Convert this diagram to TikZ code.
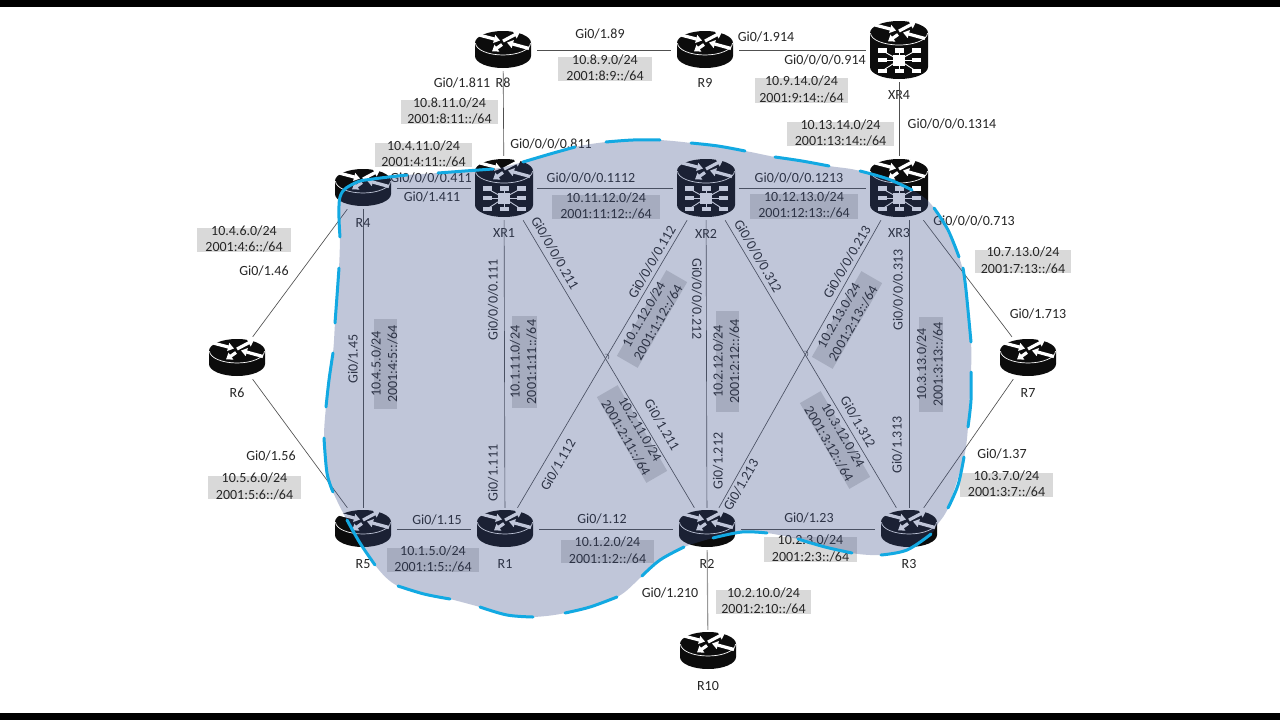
\documentclass[tikz,border=0pt]{standalone}
\usepackage{fontspec}
\setmainfont{Carlito}
\usetikzlibrary{shapes.geometric,arrows.meta}
\definecolor{linecol}{HTML}{505050}
\definecolor{boxcol}{HTML}{D9D9D9}
\definecolor{regcol}{RGB}{61,80,138}
\definecolor{bluecol}{HTML}{12A9E2}
\definecolor{devcol}{HTML}{0C0C0C}
\newcommand{\toparrows}{%
  \draw[wharrow] (-24,-8) -- (-3,-2.5);
  \draw[wharrow] (0,-2) -- (17,-11);
  \draw[wharrow] (-1,1.5) -- (-11,8.5);
  \draw[wharrow] (26,5.5) -- (4,-0.5);
}
\tikzset{
  wharrow/.style={white,line width=3.2pt,-{Triangle[width=8pt,length=6pt]}},
  routerpic/.pic={
    \fill[devcol] (-28,-7) -- (-28,6) arc[start angle=180,end angle=360,x radius=28pt,y radius=12pt]
       -- (28,-7) arc[start angle=0,end angle=180,x radius=28pt,y radius=12pt] -- cycle;
    \draw[white,line width=.7pt] (-27.5,-7) arc[start angle=180,end angle=360,x radius=27.5pt,y radius=12pt];
    \begin{scope}[shift={(0,-7)}]\toparrows\end{scope}
  },
  xrpic/.pic={
    \fill[devcol] (-29,-17) -- (-29,17) arc[start angle=180,end angle=360,x radius=29pt,y radius=12pt]
       -- (29,-17) arc[start angle=0,end angle=180,x radius=29pt,y radius=12pt] -- cycle;
    \draw[white,line width=.7pt] (-28.5,-17) arc[start angle=180,end angle=360,x radius=28.5pt,y radius=12pt];
    \begin{scope}[shift={(0,-17)}]\toparrows\end{scope}
    \foreach \px/\py in {-17/0.5,-17/10,-17/21,17/0.5,17/10,17/21,0/0.5,0/21}{
      \draw[white,line width=.9pt] (0,10) -- (\px,\py);
      \fill[white] (\px-4.5,\py-2.3) rectangle (\px+4.5,\py+2.3);
    }
    \fill[white] (-6,4.5) rectangle (6,15.5);
  },
  rtnode/.style={shape=rectangle,inner sep=0pt,minimum width=68pt,minimum height=42pt},
  xrnode/.style={shape=rectangle,inner sep=0pt,minimum width=66pt,minimum height=64pt},
  link/.style={draw=linecol,line width=.65pt},
  tag/.style={inner sep=0pt,font=\fontsize{14}{16}\selectfont,text=black!85},
  netbox/.style={fill=boxcol,inner sep=0pt,text=black!85},
  bluedash/.style={draw=bluecol,line width=3pt,line cap=round,line join=round},
}
% \nb name x y rot w h line1 line2
\newcommand{\nb}[8]{\node[netbox,rotate=#4] (#1) at (#2,#3) {\parbox[c][#6pt][c]{#5pt}{\centering\fontsize{14}{16.5}\selectfont\strut #7\\ #8\strut}};}
\newcounter{tagc}
\newcommand{\tg}[4]{\stepcounter{tagc}\node[tag,rotate=#3] (t\thetagc) at (#1,#2) {#4};}
\newcommand{\router}[4]{\node[rtnode] (#1) at (#2,#3) {};\pic at (#2,#3) {routerpic};\node[tag] (#1lab) at (#2,#4) {#1};}
\newcommand{\xr}[4]{\node[xrnode] (#1) at (#2,#3) {};\pic at (#2,#3) {xrpic};\node[tag] (#1lab) at (#2,#4) {#1};}
\begin{document}
\begin{tikzpicture}[x=1pt,y=-1pt]
\useasboundingbox (0,0) rectangle (1280,720);
\fill[white] (0,0) rectangle (1280,720);
\fill[black] (0,0) rectangle (1280,7);
\fill[black] (0,713) rectangle (1280,720);
% address boxes
\nb{b1}{605}{69}{0}{94}{24}{10.8.9.0/24}{2001:8:9::/64}
\nb{b2}{449.5}{112}{0}{97}{24}{10.8.11.0/24}{2001:8:11::/64}
\nb{b3}{801.5}{90.5}{0}{93}{25}{10.9.14.0/24}{2001:9:14::/64}
\nb{b4}{840.5}{134}{0}{107}{24}{10.13.14.0/24}{2001:13:14::/64}
\nb{b5}{423.5}{155}{0}{97}{24}{10.4.11.0/24}{2001:4:11::/64}
\nb{b6}{606}{207}{0}{108}{24}{10.11.12.0/24}{2001:11:12::/64}
\nb{b7}{804}{206}{0}{108}{25}{10.12.13.0/24}{2001:12:13::/64}
\nb{b8}{1023}{261.5}{0}{96}{23}{10.7.13.0/24}{2001:7:13::/64}
\nb{b9}{244}{240}{0}{94}{24}{10.4.6.0/24}{2001:4:6::/64}
\nb{b10}{254.5}{487.5}{0}{93}{23}{10.5.6.0/24}{2001:5:6::/64}
\nb{b11}{433}{560}{0}{92}{24}{10.1.5.0/24}{2001:1:5::/64}
\nb{b12}{607.5}{551.5}{0}{93}{23}{10.1.2.0/24}{2001:1:2::/64}
\nb{b13}{810.5}{549.5}{0}{93}{25}{10.2.3.0/24}{2001:2:3::/64}
\nb{b14}{763.5}{602}{0}{95}{24}{10.2.10.0/24}{2001:2:10::/64}
\nb{b15}{1006.5}{485}{0}{93}{24}{10.3.7.0/24}{2001:3:7::/64}
\nb{b16}{385.5}{364}{90}{90}{23}{10.4.5.0/24}{2001:4:5::/64}
\nb{b17}{524.5}{362}{90}{92}{25}{10.1.11.0/24}{2001:1:11::/64}
\nb{b18}{727.5}{361.5}{90}{101}{23}{10.2.12.0/24}{2001:2:12::/64}
\nb{b19}{931}{364.5}{90}{95}{24}{10.3.13.0/24}{2001:3:13::/64}
\nb{b20}{652}{319}{60}{99}{24}{10.1.12.0/24}{2001:1:12::/64}
\nb{b21}{847}{320}{60}{99}{24}{10.2.13.0/24}{2001:2:13::/64}
\nb{b22}{632}{434}{-60}{99}{24}{10.2.11.0/24}{2001:2:11::/64}
\nb{b23}{835}{440}{-60}{99}{24}{10.3.12.0/24}{2001:3:12::/64}
% devices
\router{R8}{503}{50}{83}
\router{R9}{705}{50}{83}
\xr{XR4}{899}{50}{95}
\router{R4}{363}{188}{223}
\xr{XR1}{504}{188}{233}
\xr{XR2}{706}{188}{234}
\xr{XR3}{899}{188}{233}
\router{R6}{237}{358}{393}
\router{R7}{1028}{358}{393}
\router{R5}{363}{529}{564}
\router{R1}{505}{529}{564}
\router{R2}{707}{529}{564}
\router{R3}{909}{529}{564}
\router{R10}{708}{651}{686}
% connectors
\draw[link] (R8) -- (R9);
\draw[link] (R9) -- (XR4);
\draw[link] (R8) -- (XR1);
\draw[link] (XR4) -- (XR3);
\draw[link] (R4) -- (XR1);
\draw[link] (XR1) -- (XR2);
\draw[link] (XR2) -- (XR3);
\draw[link] (R4) -- (R5);
\draw[link] (R4) -- (R6);
\draw[link] (R6) -- (R5);
\draw[link] (XR1) -- (R1);
\draw[link] (XR1) -- (R2);
\draw[link] (XR2) -- (R1);
\draw[link] (XR2) -- (R2);
\draw[link] (XR2) -- (R3);
\draw[link] (XR3) -- (R2);
\draw[link] (XR3.south -| R3) -- (R3);
\draw[link] (XR3) -- (R7);
\draw[link] (R7) -- (R3);
\draw[link] (R5) -- (R1);
\draw[link] (R1) -- (R2);
\draw[link] (R2) -- (R3);
\draw[draw=black!40,line width=1.1pt] (R2) -- (R10);
% small line hops at the two crossings
\draw[linecol,line width=.5pt] (605,354) .. controls (608.5,353) and (610,357) .. (608,359);
\draw[linecol,line width=.5pt] (804,351) .. controls (807.5,350) and (809,354) .. (807,356);
% interface labels
\tg{600}{34}{0}{Gi0/1.89}
\tg{766}{37}{0}{Gi0/1.914}
\tg{825}{60}{0}{Gi0/0/0/0.914}
\tg{462}{83}{0}{Gi0/1.811}
\tg{551}{144}{0}{Gi0/0/0/0.811}
\tg{952}{124}{0}{Gi0/0/0/0.1314}
\tg{431}{178}{0}{Gi0/0/0/0.411}
\tg{432}{197}{0}{Gi0/1.411}
\tg{591}{178}{0}{Gi0/0/0/0.1112}
\tg{799}{178}{0}{Gi0/0/0/0.1213}
\tg{974}{221}{0}{Gi0/0/0/0.713}
\tg{1038}{314}{0}{Gi0/1.713}
\tg{264}{271}{0}{Gi0/1.46}
\tg{353}{359}{90}{Gi0/1.45}
\tg{493}{300}{90}{Gi0/0/0/0.111}
\tg{493}{473}{90}{Gi0/1.111}
\tg{555}{253}{-60}{Gi0/0/0/0.211}
\tg{652}{262}{60}{Gi0/0/0/0.112}
\tg{697}{299}{-90}{Gi0/0/0/0.212}
\tg{758}{256}{-60}{Gi0/0/0/0.312}
\tg{847}{262}{60}{Gi0/0/0/0.213}
\tg{898}{290}{90}{Gi0/0/0/0.313}
\tg{662}{425}{-60}{Gi0/1.211}
\tg{718}{461}{90}{Gi0/1.212}
\tg{741}{485}{60}{Gi0/1.213}
\tg{858}{422}{-60}{Gi0/1.312}
\tg{897}{445}{90}{Gi0/1.313}
\tg{558}{465}{60}{Gi0/1.112}
\tg{1002}{454}{0}{Gi0/1.37}
\tg{271}{456}{0}{Gi0/1.56}
\tg{437}{520}{0}{Gi0/1.15}
\tg{602}{519}{0}{Gi0/1.12}
\tg{809}{518}{0}{Gi0/1.23}
\tg{670}{593}{0}{Gi0/1.210}
% shaded region
\fill[regcol,fill opacity=.32] plot[smooth cycle,tension=.45] coordinates {
 (713,538)(684,547)(660,560)(640,578)(617,597)(565,613)(533,617)(507,615)(480,607)(450,599)(398,586)(375,565)
 (347,520)(333,492)(327,473)(324,438)(326,407)(333,353)(335,323)(339,268)(340,237)(340,197)(355,183)(373,179)
 (407,175)(438,173)(493,169)(523,162)(575,147)(606,142)(633,140)(660,140)(691,143)(745,151)(775,157)(829,166)
 (860,171)(912,190)(934,208)(959,257)(966,290)(971,342)(971,372)(968,427)(964,457)(948,508)(937,525)(931,534)
 (907,550)(881,555)(852,553)(798,539)(767,533)(742,532)};
% dashed outline
\draw[bluedash] plot[smooth,tension=.6] coordinates {(340,237)(340,197)(355,183)(373,179)(407,175)};
\draw[bluedash] plot[smooth,tension=.6] coordinates {(438,173)(465,171)(493,169)};
\draw[bluedash] plot[smooth,tension=.6] coordinates {(523,162)(550,154)(575,147)};
\draw[bluedash] plot[smooth,tension=.6] coordinates {(606,142)(633,140)(660,140)};
\draw[bluedash] plot[smooth,tension=.6] coordinates {(691,143)(718,146)(745,151)};
\draw[bluedash] plot[smooth,tension=.6] coordinates {(775,157)(802,161)(829,166)};
\draw[bluedash] plot[smooth,tension=.6] coordinates {(860,171)(888,179)(912,190)};
\draw[bluedash] plot[smooth,tension=.6] coordinates {(934,208)(948,230)(959,257)};
\draw[bluedash] plot[smooth,tension=.6] coordinates {(963,268)(966,290)(971,342)};
\draw[bluedash] plot[smooth,tension=.6] coordinates {(971,372)(971,400)(968,427)};
\draw[bluedash] plot[smooth,tension=.6] coordinates {(964,457)(958,485)(948,508)};
\draw[bluedash] plot[smooth,tension=.6] coordinates {(931,534)(907,550)(881,555)};
\draw[bluedash] plot[smooth,tension=.6] coordinates {(852,553)(825,547)(798,539)};
\draw[bluedash] plot[smooth,tension=.6] coordinates {(767,533)(742,532)(713,538)};
\draw[bluedash] plot[smooth,tension=.6] coordinates {(684,547)(660,560)(642,576)};
\draw[bluedash] plot[smooth,tension=.6] coordinates {(617,597)(590,607)(565,613)};
\draw[bluedash] plot[smooth,tension=.6] coordinates {(533,617)(507,615)(480,607)};
\draw[bluedash] plot[smooth,tension=.6] coordinates {(450,599)(424,594)(398,586)};
\draw[bluedash] plot[smooth,tension=.6] coordinates {(375,565)(360,543)(347,520)};
\draw[bluedash] plot[smooth,tension=.6] coordinates {(333,492)(327,473)(324,438)};
\draw[bluedash] plot[smooth,tension=.6] coordinates {(326,407)(329,380)(333,353)};
\draw[bluedash] plot[smooth,tension=.6] coordinates {(335,323)(337,296)(339,268)};
\end{tikzpicture}
\end{document}
